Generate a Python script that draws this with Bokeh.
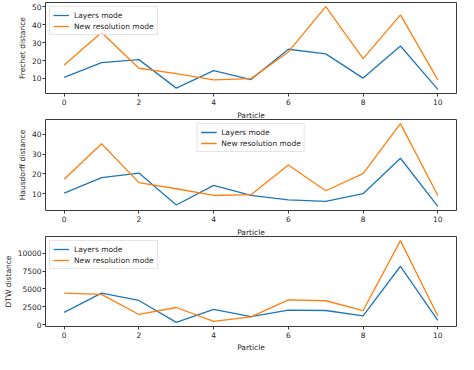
from bokeh.plotting import figure
from bokeh.layouts import column
from bokeh.models import FixedTicker, Range1d, Title
from bokeh.embed import file_html
from bokeh.resources import INLINE

particles = [0, 1, 2, 3, 4, 5, 6, 7, 8, 9, 10]
x_ticks = [0, 2, 4, 6, 8, 10]

frechet_layers = [10.6, 18.8, 20.5, 4.6, 14.4, 9.4, 26.3, 23.7, 10.2, 28.1, 3.9]
frechet_newres = [17.5, 35.7, 15.7, 12.7, 9.2, 9.9, 24.8, 50.1, 21.1, 45.5, 9.2]
frechet_ticks = [10, 20, 30, 40, 50]

hausdorff_layers = [10.3, 18.1, 20.4, 4.3, 14.2, 9.1, 6.9, 6.1, 10.0, 27.9, 3.6]
hausdorff_newres = [17.3, 35.2, 15.6, 12.5, 9.1, 9.5, 24.5, 11.5, 20.1, 45.4, 9.1]
hausdorff_ticks = [10, 20, 30, 40]

dtw_layers = [1750, 4430, 3400, 340, 2170, 1150, 2040, 2000, 1240, 8170, 640]
dtw_newres = [4430, 4250, 1450, 2420, 470, 1110, 3480, 3360, 2000, 11750, 1240]
dtw_ticks = [0, 2500, 5000, 7500, 10000]

series_names = ["Layers mode", "New resolution mode"]
colors = ["#1f77b4", "#ff7f0e"]
xlabel = "Particle"

FONT = "DejaVu Sans"
FS = "7.5px"
TXT = "#262626"


def make_panel(ylabel, a, b, yticks, height, top, bottom, legend_loc, prev_xlabel, own_xlabel):
    lo = min(min(a), min(b))
    hi = max(max(a), max(b))
    span = hi - lo
    yr = Range1d(lo - 0.05 * span, hi + 0.05 * span)
    p = figure(width=458, height=height, output_backend="svg", toolbar_location=None,
               x_range=Range1d(-0.5, 10.5), y_range=yr,
               min_border_left=41, min_border_right=2,
               min_border_top=top, min_border_bottom=bottom)
    p.grid.visible = False
    p.outline_line_color = "#3a3a3a"
    p.outline_line_width = 1
    p.background_fill_color = "white"
    p.border_fill_color = "white"

    for vals, name, c in zip([a, b], series_names, colors):
        p.line(particles, vals, line_color=c, line_width=1.3, legend_label=name)

    for ax in [p.xaxis[0], p.yaxis[0]]:
        ax.axis_line_color = None
        ax.major_tick_in = 0
        ax.major_tick_out = 3
        ax.major_tick_line_color = "#3a3a3a"
        ax.minor_tick_line_color = None
        ax.major_label_text_font = FONT
        ax.major_label_text_font_size = FS
        ax.major_label_text_color = TXT
        ax.major_label_standoff = 2
        ax.axis_label_text_font = FONT
        ax.axis_label_text_font_size = FS
        ax.axis_label_text_font_style = "normal"
        ax.axis_label_text_color = TXT
        ax.axis_label_standoff = 2
    p.yaxis[0].major_label_standoff = 1
    p.xaxis[0].ticker = FixedTicker(ticks=x_ticks)
    p.yaxis[0].ticker = FixedTicker(ticks=yticks)
    p.yaxis[0].axis_label = ylabel
    if own_xlabel:
        p.xaxis[0].axis_label = xlabel
    if prev_xlabel:
        # x-axis label of the panel above, drawn just over this panel's frame
        p.add_layout(Title(text=xlabel, align="center", standoff=0, offset=0,
                           text_font=FONT, text_font_size=FS, text_font_style="normal",
                           text_color=TXT), "above")

    lg = p.legend[0]
    lg.location = legend_loc
    lg.margin = 4
    lg.padding = 3
    lg.spacing = 1
    lg.glyph_width = 16
    lg.glyph_height = 10
    lg.label_height = 10
    lg.label_standoff = 5
    lg.label_text_font = FONT
    lg.label_text_font_size = FS
    lg.label_text_color = TXT
    lg.border_line_color = "#cccccc"
    lg.border_line_width = 1
    lg.background_fill_alpha = 0.8
    return p


p1 = make_panel("Frechet distance", frechet_layers, frechet_newres, frechet_ticks,
                108, 2, 15, "top_left", False, False)
p2 = make_panel("Hausdorff distance", hausdorff_layers, hausdorff_newres, hausdorff_ticks,
                117, 0, 15, "top_center", True, False)
p3 = make_panel("DTW distance", dtw_layers, dtw_newres, dtw_ticks,
                129, 0, 27, "top_left", True, True)

layout = column(p1, p2, p3, spacing=0)
open("out.html", "w").write(file_html(layout, INLINE))
